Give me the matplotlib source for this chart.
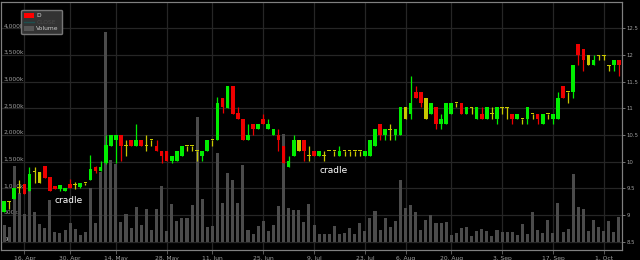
import matplotlib
matplotlib.use("Agg")
import matplotlib.pyplot as plt
from matplotlib.patches import Patch
from matplotlib.lines import Line2D
import numpy as np

# daily candles (open, high, low, close) and volume in thousands
opens = [9.06, 9.26, 9.30, 9.52, 9.58, 9.46, 9.81, 9.61, 9.92, 9.71,
         9.55, 9.48, 9.45, 9.58, 9.58, 9.53, 9.61, 9.66, 9.91, 9.83,
         9.98, 10.30, 10.41, 10.51, 10.30, 10.41, 10.30, 10.41, 10.30, 10.41,
         10.30, 10.21, 10.21, 10.01, 10.01, 10.11, 10.30, 10.30, 10.21, 10.11,
         10.21, 10.41, 10.41, 11.20, 11.00, 11.42, 10.92, 10.81, 10.41, 10.71,
         10.61, 10.81, 10.61, 10.51, 10.51, 10.30, 9.91, 10.11, 10.21, 10.41,
         10.11, 10.21, 10.11, 10.11, 10.21, 10.21, 10.11, 10.21, 10.21, 10.21,
         10.21, 10.11, 10.11, 10.30, 10.71, 10.51, 10.61, 10.51, 10.51, 10.81,
         10.90, 11.31, 11.31, 10.81, 10.90, 11.02, 10.71, 10.71, 10.90, 11.11,
         11.11, 10.90, 11.02, 10.81, 10.90, 10.81, 10.90, 10.81, 11.02, 11.02,
         10.90, 10.81, 10.81, 10.81, 10.90, 10.90, 10.71, 10.90, 10.81, 10.81,
         11.42, 11.31, 11.31, 12.21, 12.11, 11.81, 11.81, 12.00, 12.00, 11.81,
         11.81, 11.91]
highs = [9.26, 9.26, 9.51, 9.65, 9.58, 9.91, 9.91, 9.81, 9.92, 9.71,
         9.55, 9.56, 9.51, 9.67, 9.62, 9.61, 9.61, 10.12, 9.92, 10.01,
         10.50, 10.51, 10.51, 10.51, 10.41, 10.41, 10.71, 10.41, 10.51, 10.41,
         10.41, 10.21, 10.21, 10.11, 10.21, 10.30, 10.30, 10.30, 10.21, 10.21,
         10.41, 10.41, 11.22, 11.20, 11.42, 11.42, 11.02, 10.81, 10.71, 10.71,
         10.71, 10.90, 10.81, 10.61, 10.61, 10.30, 10.11, 10.51, 10.41, 10.41,
         10.30, 10.21, 10.21, 10.21, 10.21, 10.21, 10.30, 10.21, 10.21, 10.21,
         10.21, 10.21, 10.41, 10.61, 10.71, 10.61, 10.71, 10.61, 11.02, 11.02,
         11.60, 11.42, 11.31, 11.20, 11.11, 11.02, 10.90, 11.11, 11.11, 11.11,
         11.11, 11.02, 11.02, 11.02, 11.02, 11.02, 11.02, 11.02, 11.02, 11.02,
         10.90, 10.90, 10.81, 11.02, 10.90, 10.90, 10.90, 10.90, 10.90, 11.31,
         11.42, 11.31, 11.81, 12.21, 12.11, 12.00, 12.00, 12.00, 12.00, 11.81,
         11.91, 11.91]
lows = [9.06, 9.11, 9.30, 9.41, 9.39, 9.46, 9.61, 9.61, 9.69, 9.46,
        9.49, 9.45, 9.45, 9.50, 9.48, 9.50, 9.56, 9.66, 9.79, 9.83,
        9.96, 10.30, 9.97, 10.01, 10.11, 10.30, 10.30, 10.30, 10.21, 10.30,
        10.21, 9.97, 10.01, 9.97, 10.01, 10.11, 10.21, 10.21, 10.01, 10.01,
        10.21, 10.30, 10.41, 10.92, 11.00, 10.90, 10.81, 10.41, 10.41, 10.51,
        10.61, 10.71, 10.61, 10.51, 10.21, 9.97, 9.91, 10.11, 10.21, 10.01,
        10.01, 10.11, 10.11, 10.01, 10.21, 10.11, 10.11, 10.11, 10.11, 10.11,
        10.11, 10.11, 10.11, 10.30, 10.41, 10.41, 10.41, 10.41, 10.51, 10.81,
        10.81, 11.20, 11.02, 10.81, 10.90, 10.61, 10.61, 10.71, 10.90, 11.02,
        10.90, 10.90, 10.90, 10.81, 10.81, 10.81, 10.81, 10.71, 10.90, 10.81,
        10.71, 10.81, 10.71, 10.71, 10.81, 10.71, 10.71, 10.81, 10.71, 10.81,
        11.20, 11.11, 11.20, 11.81, 11.71, 11.81, 11.81, 11.91, 11.91, 11.71,
        11.71, 11.61]
closes = [9.26, 9.26, 9.51, 9.52, 9.39, 9.77, 9.81, 9.81, 9.69, 9.46,
          9.49, 9.56, 9.51, 9.50, 9.58, 9.61, 9.61, 9.86, 9.83, 9.91,
          10.31, 10.51, 10.51, 10.30, 10.30, 10.30, 10.41, 10.30, 10.30, 10.41,
          10.21, 10.11, 10.01, 10.11, 10.21, 10.30, 10.30, 10.30, 10.21, 10.21,
          10.41, 10.41, 11.11, 11.02, 11.42, 10.90, 10.81, 10.41, 10.51, 10.61,
          10.71, 10.71, 10.71, 10.61, 10.41, 9.97, 10.01, 10.41, 10.41, 10.21,
          10.11, 10.11, 10.21, 10.11, 10.21, 10.21, 10.21, 10.21, 10.21, 10.21,
          10.21, 10.21, 10.41, 10.61, 10.51, 10.61, 10.61, 10.61, 11.02, 11.02,
          11.11, 11.20, 11.11, 11.20, 11.11, 10.71, 10.81, 11.11, 11.11, 11.11,
          10.90, 11.02, 11.02, 11.02, 10.81, 11.02, 10.90, 11.02, 11.02, 11.02,
          10.81, 10.90, 10.81, 11.02, 10.90, 10.81, 10.90, 10.90, 10.90, 11.20,
          11.20, 11.31, 11.81, 12.00, 11.91, 12.00, 11.91, 12.00, 12.00, 11.81,
          11.91, 11.81]
volumes = [313, 269, 1419, 907, 519, 951, 557, 332, 251, 782,
           176, 157, 219, 345, 238, 126, 176, 1001, 357, 1313,
           3938, 1532, 1457, 376, 519, 251, 645, 313, 607, 219,
           607, 1044, 207, 707, 388, 438, 438, 688, 2333, 795,
           276, 294, 1657, 732, 1294, 1157, 719, 1438, 219, 139,
           294, 388, 207, 307, 669, 2014, 626, 594, 594, 369,
           707, 313, 139, 138, 138, 294, 138, 157, 251, 138,
           357, 200, 438, 582, 219, 438, 269, 394, 1157, 626,
           688, 551, 219, 407, 500, 345, 345, 376, 126, 169,
           251, 282, 107, 207, 232, 207, 107, 219, 188, 188,
           188, 126, 332, 138, 551, 219, 169, 407, 169, 732,
           188, 238, 1269, 645, 619, 207, 401, 276, 200, 394,
           182, 463]
# days drawn in the neutral (yellow) colour although open and close differ
flat_days = [7, 58, 79, 83, 115]

tick_pos = [4, 13, 22, 32, 41, 51, 61, 71, 79, 88, 98, 108, 118]
tick_labels = ["16. Apr", "30. Apr", "14. May", "28. May", "11. Jun", "25. Jun",
               "9. Jul", "23. Jul", "6. Aug", "20. Aug", "3. Sep", "17. Sep", "1. Oct"]
vol_ticks = [0, 500, 1000, 1500, 2000, 2500, 3000, 3500, 4000]
price_ticks = [8.5, 9, 9.5, 10, 10.5, 11, 11.5, 12, 12.5]
notes = [("cradle", 12.8, 9.28), ("cradle", 64.9, 9.83)]

UP, DOWN, FLAT = "#00ee00", "#ee0000", "#c8c800"

fig = plt.figure(figsize=(6.4, 2.6), dpi=100, facecolor="black")
ax = fig.add_axes([1 / 640, 1 - 249.5 / 260, 621 / 640, 247.5 / 260])
ax.set_facecolor("black")
ax2 = ax.twinx()
ax2.patch.set_visible(False)

x = np.arange(len(closes))
o = np.array(opens)
h = np.array(highs)
l = np.array(lows)
c = np.array(closes)

ax.bar(x, volumes, width=0.6, color="#4b4b4b", zorder=2)
ax.set_ylim(-146, 4494)
ax.set_xlim(-0.6, 121.6)

cols = np.where(c > o, UP, np.where(c < o, DOWN, FLAT)).astype(object)
for i in flat_days:
    cols[i] = FLAT

ax2.vlines(x, l, h, colors=list(cols), linewidth=0.9, zorder=3)
bot = np.minimum(o, c)
hgt = np.abs(c - o)
ax2.bar(x, np.maximum(hgt, 0.018), bottom=np.where(hgt > 0, bot, bot - 0.009),
        width=0.72, color=list(cols), linewidth=0, zorder=4)
ax2.set_ylim(8.354, 12.995)

# grid
ax.set_yticks(vol_ticks)
ax.set_yticklabels(["0k"] + ["{:,}k".format(v) for v in vol_ticks[1:]])
ax.set_xticks(tick_pos)
ax.set_xticklabels(tick_labels)
ax.grid(True, color="#262626", linewidth=0.9, zorder=0)
ax.set_axisbelow(True)
ax.tick_params(axis="y", direction="in", length=0, pad=-2, labelsize=4.3,
               labelcolor="#a0a0a0")
for lbl in ax.get_yticklabels():
    lbl.set_horizontalalignment("left")
    lbl.set_verticalalignment("bottom")
ax.tick_params(axis="x", length=3, width=0.6, color="#666666", pad=1.5,
               labelsize=4.3, labelcolor="#a0a0a0")

ax2.set_yticks(price_ticks)
ax2.set_yticklabels(["8.5", "9", "9.5", "10", "10.5", "11", "11.5", "12", "12.5"])
ax2.tick_params(axis="y", length=2, width=0.6, color="#888888", pad=1.2,
                labelsize=3.9, labelcolor="#a0a0a0")

for a in (ax, ax2):
    for s in a.spines.values():
        s.set_color("#808080")
        s.set_linewidth(0.8)

for txt, xi, yi in notes:
    ax2.text(xi, yi, txt, color="white", fontsize=6.5, ha="center", va="center",
             zorder=6)

handles = [Patch(facecolor="#ff0000", edgecolor="none"),
           Line2D([0], [0], color="#1d4f4f", linewidth=1),
           Patch(facecolor="#555555", edgecolor="none")]
leg = ax2.legend(handles, ["D", "CLOSE", "Volume"], loc="upper left",
                 bbox_to_anchor=(0.028, 0.98), fontsize=4.3, frameon=True,
                 facecolor="#333333", edgecolor="#777777", framealpha=1,
                 handlelength=1.6, handleheight=0.9, handletextpad=0.4,
                 labelspacing=0.15, borderpad=0.5, fancybox=True)
for t, colr in zip(leg.get_texts(), ["#dddddd", "#4a4a4a", "#cccccc"]):
    t.set_color(colr)
leg.set_zorder(10)

fig.savefig("out.png", dpi=100, facecolor="black")
